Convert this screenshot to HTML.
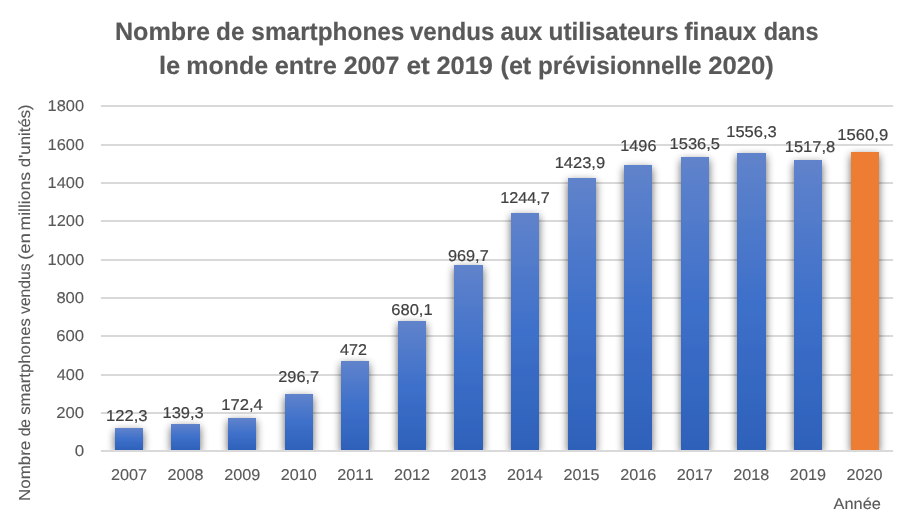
<!DOCTYPE html>
<html><head><meta charset="utf-8"><title>chart</title>
<style>
html,body{margin:0;padding:0;background:#fff;}
body{width:908px;height:531px;overflow:hidden;position:relative;font-family:"Liberation Sans",sans-serif;}
svg{position:absolute;left:0;top:0;display:block;will-change:transform}
text{font-family:"Liberation Sans",sans-serif;font-kerning:none;text-rendering:geometricPrecision;}
.t{font-weight:bold;font-size:25.0px;fill:#595959;stroke:#595959;stroke-width:0.18px}
.ax{font-size:15.6px;fill:#595959;stroke:#595959;stroke-width:0.12px}
.yt{font-size:15.9px;fill:#595959;stroke:#595959;stroke-width:0.12px}
.dl{font-size:15.7px;fill:#404040;stroke:#404040;stroke-width:0.18px}
</style></head><body>
<svg width="908" height="531" viewBox="0 0 908 531">
<defs>
<linearGradient id="g" x1="0" y1="0" x2="0" y2="1">
<stop offset="0" stop-color="#6083cb"/><stop offset="0.5" stop-color="#3e70ca"/><stop offset="1" stop-color="#2e61ba"/>
</linearGradient>
<filter id="sh" x="0" y="0" width="908" height="531" filterUnits="userSpaceOnUse">
<feGaussianBlur in="SourceAlpha" stdDeviation="4.0"/>
<feOffset dx="0" dy="2.8" result="b"/>
<feComponentTransfer><feFuncA type="linear" slope="0.62"/></feComponentTransfer>
<feMerge><feMergeNode/><feMergeNode in="SourceGraphic"/></feMerge>
</filter>
<clipPath id="cp"><rect x="90" y="90" width="818" height="360"/></clipPath>
</defs>
<rect width="908" height="531" fill="#fff"/>

<rect x="100.9" y="412" width="792.2" height="2" fill="#d9d9d9"/>
<rect x="100.9" y="374" width="792.2" height="2" fill="#d9d9d9"/>
<rect x="100.9" y="335" width="792.2" height="2" fill="#d9d9d9"/>
<rect x="100.9" y="297" width="792.2" height="2" fill="#d9d9d9"/>
<rect x="100.9" y="259" width="792.2" height="2" fill="#d9d9d9"/>
<rect x="100.9" y="220" width="792.2" height="2" fill="#d9d9d9"/>
<rect x="100.9" y="182" width="792.2" height="2" fill="#d9d9d9"/>
<rect x="100.9" y="144" width="792.2" height="2" fill="#d9d9d9"/>
<rect x="100.9" y="105" width="792.2" height="2" fill="#d9d9d9"/>
<g clip-path="url(#cp)">
<rect x="115.00" y="428.00" width="28" height="22.00" fill="url(#g)" filter="url(#sh)"/>
<rect x="171.00" y="424.00" width="29" height="26.00" fill="url(#g)" filter="url(#sh)"/>
<rect x="228.00" y="418.00" width="28" height="32.00" fill="url(#g)" filter="url(#sh)"/>
<rect x="285.00" y="394.00" width="28" height="56.00" fill="url(#g)" filter="url(#sh)"/>
<rect x="341.00" y="361.00" width="28" height="89.00" fill="url(#g)" filter="url(#sh)"/>
<rect x="398.00" y="321.00" width="28" height="129.00" fill="url(#g)" filter="url(#sh)"/>
<rect x="454.00" y="265.00" width="29" height="185.00" fill="url(#g)" filter="url(#sh)"/>
<rect x="511.00" y="213.00" width="28" height="237.00" fill="url(#g)" filter="url(#sh)"/>
<rect x="568.00" y="178.00" width="28" height="272.00" fill="url(#g)" filter="url(#sh)"/>
<rect x="624.00" y="165.00" width="28" height="285.00" fill="url(#g)" filter="url(#sh)"/>
<rect x="681.00" y="157.00" width="28" height="293.00" fill="url(#g)" filter="url(#sh)"/>
<rect x="737.00" y="153.00" width="29" height="297.00" fill="url(#g)" filter="url(#sh)"/>
<rect x="794.00" y="160.00" width="28" height="290.00" fill="url(#g)" filter="url(#sh)"/>
<rect x="851.00" y="152.00" width="28" height="298.00" fill="#ed7d31" filter="url(#sh)"/>
</g>
<rect x="100.9" y="450" width="792.2" height="2" fill="#d9d9d9"/>
<text class="t" transform="translate(114.92,39.70) scale(1.0062,1)">Nombre</text>
<text class="t" transform="translate(216.11,39.70) scale(0.9672,1)">de</text>
<text class="t" transform="translate(251.34,39.70) scale(0.9750,1)">smartphones</text>
<text class="t" transform="translate(409.91,39.70) scale(0.9641,1)">vendus</text>
<text class="t" transform="translate(500.49,39.70) scale(0.9724,1)">aux</text>
<text class="t" transform="translate(548.49,39.70) scale(0.9748,1)">utilisateurs</text>
<text class="t" transform="translate(684.48,39.70) scale(0.9766,1)">finaux</text>
<text class="t" transform="translate(763.74,39.70) scale(0.9379,1)">dans</text>
<text class="t" transform="translate(158.98,73.50) scale(1.0165,1)">le</text>
<text class="t" transform="translate(186.36,73.50) scale(0.9982,1)">monde</text>
<text class="t" transform="translate(274.71,73.50) scale(1.0168,1)">entre</text>
<text class="t" transform="translate(343.73,73.50) scale(0.9991,1)">2007</text>
<text class="t" transform="translate(406.38,73.50) scale(1.0455,1)">et</text>
<text class="t" transform="translate(436.42,73.50) scale(1.0163,1)">2019</text>
<text class="t" transform="translate(500.55,73.50) scale(1.0033,1)">(et</text>
<text class="t" transform="translate(538.00,73.50) scale(0.9728,1)">prévisionnelle</text>
<text class="t" transform="translate(708.31,73.50) scale(1.0254,1)">2020)</text>
<text class="ax" transform="translate(74.64,456.10) scale(1.0862,1)">0</text>
<text class="ax" transform="translate(56.26,418.10) scale(1.0676,1)">200</text>
<text class="ax" transform="translate(56.72,380.10) scale(1.0495,1)">400</text>
<text class="ax" transform="translate(56.25,341.10) scale(1.0680,1)">600</text>
<text class="ax" transform="translate(56.38,303.10) scale(1.0630,1)">800</text>
<text class="ax" transform="translate(47.55,265.10) scale(1.0515,1)">1000</text>
<text class="ax" transform="translate(47.55,226.10) scale(1.0515,1)">1200</text>
<text class="ax" transform="translate(47.55,188.10) scale(1.0515,1)">1400</text>
<text class="ax" transform="translate(47.55,150.10) scale(1.0515,1)">1600</text>
<text class="ax" transform="translate(47.55,111.10) scale(1.0515,1)">1800</text>
<text class="ax" transform="translate(111.03,480.00) scale(1.0412,1)">2007</text>
<text class="ax" transform="translate(167.61,480.00) scale(1.0379,1)">2008</text>
<text class="ax" transform="translate(224.17,480.00) scale(1.0398,1)">2009</text>
<text class="ax" transform="translate(280.75,480.00) scale(1.0357,1)">2010</text>
<text class="ax" transform="translate(337.31,480.00) scale(1.0405,1)">2011</text>
<text class="ax" transform="translate(393.88,480.00) scale(1.0412,1)">2012</text>
<text class="ax" transform="translate(450.46,480.00) scale(1.0381,1)">2013</text>
<text class="ax" transform="translate(507.03,480.00) scale(1.0310,1)">2014</text>
<text class="ax" transform="translate(563.60,480.00) scale(1.0371,1)">2015</text>
<text class="ax" transform="translate(620.17,480.00) scale(1.0381,1)">2016</text>
<text class="ax" transform="translate(676.73,480.00) scale(1.0412,1)">2017</text>
<text class="ax" transform="translate(733.31,480.00) scale(1.0379,1)">2018</text>
<text class="ax" transform="translate(789.87,480.00) scale(1.0398,1)">2019</text>
<text class="ax" transform="translate(846.45,480.00) scale(1.0357,1)">2020</text>
<text class="ax" transform="translate(833.57,508.85) scale(1.0476,1)">Année</text>
<text class="dl" transform="translate(106.03,421.30) scale(1.0588,1)">122,3</text>
<text class="dl" transform="translate(162.54,418.00) scale(1.0507,1)">139,3</text>
<text class="dl" transform="translate(221.13,409.90) scale(1.0603,1)">172,4</text>
<text class="dl" transform="translate(278.28,382.10) scale(1.0422,1)">296,7</text>
<text class="dl" transform="translate(340.03,355.00) scale(1.0262,1)">472</text>
<text class="dl" transform="translate(391.26,314.70) scale(1.0550,1)">680,1</text>
<text class="dl" transform="translate(447.94,261.00) scale(1.0381,1)">969,7</text>
<text class="dl" transform="translate(500.26,203.10) scale(1.0340,1)">1244,7</text>
<text class="dl" transform="translate(554.64,168.20) scale(1.0525,1)">1423,9</text>
<text class="dl" transform="translate(620.26,150.90) scale(1.0381,1)">1496</text>
<text class="dl" transform="translate(669.54,148.90) scale(1.0528,1)">1536,5</text>
<text class="dl" transform="translate(726.24,136.80) scale(1.0535,1)">1556,3</text>
<text class="dl" transform="translate(784.74,152.00) scale(1.0533,1)">1517,8</text>
<text class="dl" transform="translate(837.33,139.90) scale(1.0612,1)">1560,9</text>
<text class="yt" transform="translate(30.4,500.99) rotate(-90) scale(1.0653,1)">Nombre</text>
<text class="yt" transform="translate(30.4,436.36) rotate(-90) scale(0.9870,1)">de</text>
<text class="yt" transform="translate(30.4,414.77) rotate(-90) scale(1.0517,1)">smartphones</text>
<text class="yt" transform="translate(30.4,313.95) rotate(-90) scale(0.9853,1)">vendus</text>
<text class="yt" transform="translate(30.4,259.96) rotate(-90) scale(1.1736,1)">(en</text>
<text class="yt" transform="translate(30.4,230.47) rotate(-90) scale(1.1035,1)">millions</text>
<text class="yt" transform="translate(30.4,167.21) rotate(-90) scale(1.0561,1)">d'unités)</text>
</svg></body></html>
